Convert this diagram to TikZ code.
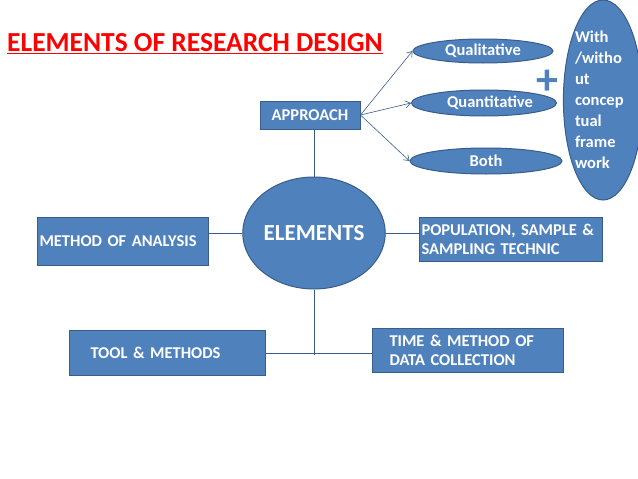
\documentclass[tikz,border=0pt]{standalone}
\usepackage{fontspec}
\setmainfont{Carlito}
\usetikzlibrary{shapes.geometric,arrows.meta}
\definecolor{bfill}{HTML}{4F81BD}
\definecolor{bdraw}{HTML}{385D8A}
\tikzset{
 box/.style={draw=bdraw,fill=bfill,line width=1pt,text=white,font=\fontsize{16.5}{19}\selectfont\bfseries,inner sep=2pt},
 ell/.style={ellipse,draw=bdraw,fill=bfill,line width=1pt,text=white,font=\fontsize{16.5}{19}\selectfont\bfseries,inner sep=0pt},
 conn/.style={draw=bdraw,line width=0.6pt},
 arr/.style={conn,-{Straight Barb[length=5pt,width=7pt]}}
}
\begin{document}
\begin{tikzpicture}[x=1pt,y=-1pt]
\useasboundingbox[fill=white] (0,0) rectangle (638,479);
\node[text=red,font=\fontsize{27.5}{30}\selectfont\bfseries,anchor=west,inner sep=0pt] (title) at (7,44) {\underline{ELEMENTS OF RESEARCH DESIGN}};
\node[box,minimum width=100pt,minimum height=28pt] (app) at (310,115) {APPROACH};
\node[ell,minimum width=140pt,minimum height=24pt] (ql) at (483,51) {Qualitative};
\node[ell,minimum width=145pt,minimum height=26pt] (qn) at (484,103) {\hspace{12pt}Quantitative};
\node[ell,minimum width=152pt,minimum height=26pt] (both) at (486,161) {Both};
\node[ell,minimum width=66pt,minimum height=200pt,align=left,text width=56pt,font=\fontsize{16.5}{21}\selectfont\bfseries] (with) at (603,100) {With\\/witho\\ut\\concep\\tual\\frame\\work};
\node[text=bfill,font=\fontsize{44}{44}\selectfont\bfseries,inner sep=0pt] (plus) at (547,82) {+};
\node[ell,minimum width=136pt,minimum height=112pt,font=\fontsize{23}{25}\selectfont\bfseries] (el) at (314,233) {ELEMENTS};
\node[box,minimum width=171pt,minimum height=48pt,anchor=north west,text width=167pt] (moa) at (37,217) {METHOD OF ANALYSIS};
\node[box,minimum width=183pt,minimum height=44pt,anchor=north west,text width=179pt,align=left] (pop) at (419,217) {POPULATION, SAMPLE \&\\SAMPLING TECHNIC};
\node[box,minimum width=196pt,minimum height=45pt,anchor=north west,text width=190pt,align=left] (tool) at (69,330) {\hspace{18pt}TOOL \& METHODS};
\node[box,minimum width=191pt,minimum height=44pt,anchor=north west,text width=185pt,align=left] (time) at (372,328) {\hspace{14pt}TIME \& METHOD OF\\\hspace{14pt}DATA COLLECTION};
\coordinate (bot) at (314,355);
\draw[arr] (app.east) -- (ql.west);
\draw[arr] (app.east) -- (qn.west);
\draw[arr] (app.east) -- (both.west);
\draw[conn] (el.north|-app.south) -- (el.north);
\draw[conn] (el.west) -- (moa.east|-el.west);
\draw[conn] (el.east) -- (pop.west|-el.east);
\draw[conn] (el.south) -- (bot);
\draw[conn] (tool.east) -- (time.west|-tool.east);
\end{tikzpicture}
\end{document}
